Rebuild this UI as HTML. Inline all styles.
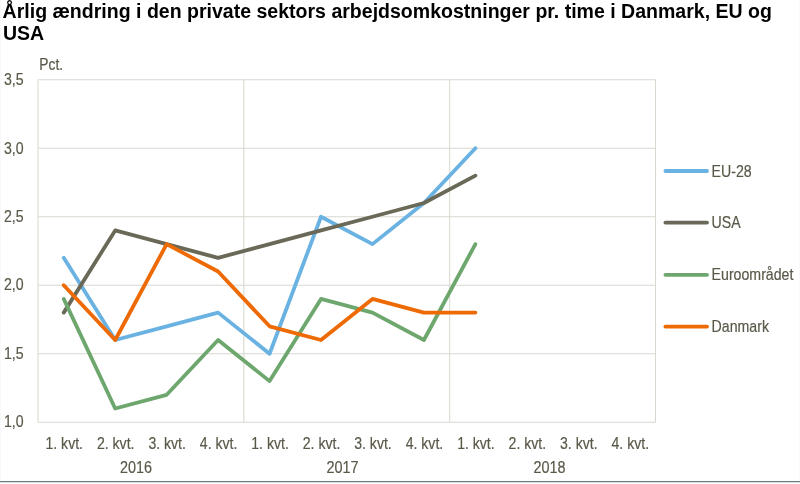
<!DOCTYPE html>
<html lang="da">
<head>
<meta charset="utf-8">
<title>Årlig ændring i den private sektors arbejdsomkostninger</title>
<style>
html,body{margin:0;padding:0;background:#fff;}
body{width:800px;height:484px;overflow:hidden;position:relative;}
svg{position:absolute;left:0;top:0;display:block;}
.t{font-family:"Liberation Sans",Arial,Helvetica,sans-serif;font-weight:bold;font-size:19.7px;fill:#000;}
.n{font-family:"Liberation Sans",Arial,Helvetica,sans-serif;font-size:16px;fill:#5a5848;stroke:#5a5848;stroke-width:0.18px;}
.g{stroke:#d9d8d0;stroke-width:1.05;fill:none;}
.s{fill:none;stroke-width:3.8;stroke-linecap:round;stroke-linejoin:round;}
</style>
</head>
<body>
<svg width="800" height="484" viewBox="0 0 800 484">
<rect x="0" y="0" width="800" height="484" fill="#ffffff"/>
<text class="t" transform="translate(2.6,17.8) scale(0.9917,1)">Årlig ændring i den private sektors arbejdsomkostninger pr. time i Danmark, EU og</text>
<text class="t" transform="translate(2.9,40.1) scale(0.9917,1)">USA</text>
<line class="g" x1="38.00" x2="655.50" y1="422.20" y2="422.20"/>
<line class="g" x1="38.00" x2="655.50" y1="353.71" y2="353.71"/>
<line class="g" x1="38.00" x2="655.50" y1="285.22" y2="285.22"/>
<line class="g" x1="38.00" x2="655.50" y1="216.73" y2="216.73"/>
<line class="g" x1="38.00" x2="655.50" y1="148.24" y2="148.24"/>
<line class="g" x1="38.00" x2="655.50" y1="79.75" y2="79.75"/>
<line class="g" x1="38.00" x2="38.00" y1="79.75" y2="422.20"/>
<line class="g" x1="243.83" x2="243.83" y1="79.75" y2="422.20"/>
<line class="g" x1="449.67" x2="449.67" y1="79.75" y2="422.20"/>
<line class="g" x1="655.50" x2="655.50" y1="79.75" y2="422.20"/>
<text class="n" text-anchor="end" transform="translate(23.6,427.25) scale(0.885,1)">1,0</text>
<text class="n" text-anchor="end" transform="translate(23.6,358.82) scale(0.885,1)">1,5</text>
<text class="n" text-anchor="end" transform="translate(23.6,290.39) scale(0.885,1)">2,0</text>
<text class="n" text-anchor="end" transform="translate(23.6,221.96) scale(0.885,1)">2,5</text>
<text class="n" text-anchor="end" transform="translate(23.6,153.53) scale(0.885,1)">3,0</text>
<text class="n" text-anchor="end" transform="translate(23.6,85.10) scale(0.885,1)">3,5</text>
<text class="n" transform="translate(39.3,69.6) scale(0.865,1)">Pct.</text>
<text class="n" text-anchor="middle" transform="translate(64.23,448.85) scale(0.88,1)">1. kvt.</text>
<text class="n" text-anchor="middle" transform="translate(115.69,448.85) scale(0.88,1)">2. kvt.</text>
<text class="n" text-anchor="middle" transform="translate(167.15,448.85) scale(0.88,1)">3. kvt.</text>
<text class="n" text-anchor="middle" transform="translate(218.60,448.85) scale(0.88,1)">4. kvt.</text>
<text class="n" text-anchor="middle" transform="translate(270.06,448.85) scale(0.88,1)">1. kvt.</text>
<text class="n" text-anchor="middle" transform="translate(321.52,448.85) scale(0.88,1)">2. kvt.</text>
<text class="n" text-anchor="middle" transform="translate(372.98,448.85) scale(0.88,1)">3. kvt.</text>
<text class="n" text-anchor="middle" transform="translate(424.44,448.85) scale(0.88,1)">4. kvt.</text>
<text class="n" text-anchor="middle" transform="translate(475.90,448.85) scale(0.88,1)">1. kvt.</text>
<text class="n" text-anchor="middle" transform="translate(527.35,448.85) scale(0.88,1)">2. kvt.</text>
<text class="n" text-anchor="middle" transform="translate(578.81,448.85) scale(0.88,1)">3. kvt.</text>
<text class="n" text-anchor="middle" transform="translate(630.27,448.85) scale(0.88,1)">4. kvt.</text>
<text class="n" text-anchor="middle" transform="translate(135.90,473.3) scale(0.9,1)">2016</text>
<text class="n" text-anchor="middle" transform="translate(342.40,473.3) scale(0.9,1)">2017</text>
<text class="n" text-anchor="middle" transform="translate(549.40,473.3) scale(0.9,1)">2018</text>
<polyline class="s" stroke="#6ab2e2" points="63.73,257.82 115.19,340.01 166.65,326.31 218.10,312.62 269.56,353.71 321.02,216.73 372.48,244.13 423.94,203.03 475.40,148.24"/>
<polyline class="s" stroke="#6a6958" points="63.73,312.62 115.19,230.43 166.65,244.13 218.10,257.82 269.56,244.13 321.02,230.43 372.48,216.73 423.94,203.03 475.40,175.64"/>
<polyline class="s" stroke="#6ea76e" points="63.73,298.92 115.19,408.50 166.65,394.80 218.10,340.01 269.56,381.11 321.02,298.92 372.48,312.62 423.94,340.01 475.40,244.13"/>
<polyline class="s" stroke="#ed6a05" points="63.73,285.22 115.19,340.01 166.65,244.13 218.10,271.52 269.56,326.31 321.02,340.01 372.48,298.92 423.94,312.62 475.40,312.62"/>
<line class="s" stroke="#6ab2e2" x1="665.4" x2="707" y1="171.0" y2="171.0"/>
<text class="n" transform="translate(711.6,176.60) scale(0.885,1)">EU-28</text>
<line class="s" stroke="#6a6958" x1="665.4" x2="707" y1="222.6" y2="222.6"/>
<text class="n" transform="translate(711.6,228.20) scale(0.885,1)">USA</text>
<line class="s" stroke="#6ea76e" x1="665.4" x2="707" y1="274.8" y2="274.8"/>
<text class="n" transform="translate(711.6,280.40) scale(0.885,1)">Euroområdet</text>
<line class="s" stroke="#ed6a05" x1="665.4" x2="707" y1="326.6" y2="326.6"/>
<text class="n" transform="translate(711.6,332.20) scale(0.885,1)">Danmark</text>
<rect x="0" y="0" width="1" height="480" fill="#f8f9fa"/>
<rect x="799" y="0" width="1" height="480" fill="#f9fafb"/>
<line x1="0" x2="800" y1="481.5" y2="481.5" stroke="#687e89" stroke-width="1.25"/>
</svg>
</body>
</html>
